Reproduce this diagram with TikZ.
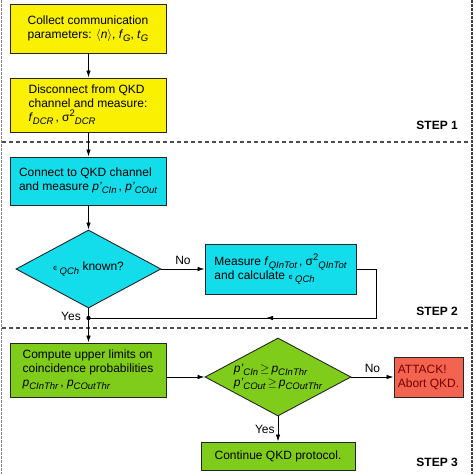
\documentclass[tikz,border=0pt]{standalone}
\usepackage{fontspec}
\setmainfont{Liberation Sans}
\newfontfamily\dvs{DejaVu Sans}
\usetikzlibrary{shapes.geometric,arrows.meta}
\definecolor{cyell}{HTML}{F9F002}
\definecolor{ccyan}{HTML}{14DDEB}
\definecolor{cgreen}{HTML}{80CC1A}
\definecolor{cred}{HTML}{F26450}
\definecolor{cdred}{HTML}{7A0000}
\newcommand\sbs[1]{\raisebox{-0.28em}{\fontsize{9.5}{10}\selectfont\itshape #1}}
\newcommand\sps[1]{\raisebox{0.45em}{\fontsize{9.5}{10}\selectfont #1}}
\newcommand\eps{{\dvs\fontsize{7.5}{8}\selectfont ϵ}}
\begin{document}
\begin{tikzpicture}[x=1pt,y=-1pt,
  box/.style={draw=black!85, line width=0.9pt, inner sep=0pt, align=left,
    font=\fontsize{12}{14}\selectfont},
  dia/.style={box, shape=diamond, aspect=1.86, minimum width=145pt, minimum height=78pt},
  arr/.style={line width=0.8pt, -{Latex[length=7pt,width=4.5pt]}},
  ln/.style={line width=0.8pt},
  lab/.style={font=\fontsize{12}{14}\selectfont, inner sep=0pt},
  steplab/.style={font=\fontsize{12}{14}\selectfont\bfseries, inner sep=0pt, anchor=east},
  hdash/.style={draw=black!70, line width=1.2pt, dash pattern=on 4pt off 3pt},
  vdash/.style={draw=black!75, line width=1.5pt, dash pattern=on 2.5pt off 1.5pt}]
\useasboundingbox (0,0) rectangle (474,474);
% frame
\draw[vdash, draw=black!50] (1.5,0) -- (1.5,474);
\draw[vdash] (472,0) -- (472,474);
\draw[hdash] (2,142) -- (472,142);
\draw[hdash] (2,328) -- (472,328);
% step labels
\node[steplab] (s1) at (458,125) {STEP 1};
\node[steplab] (s2) at (458,311) {STEP 2};
\node[steplab] (s3) at (458,462) {STEP 3};
% nodes
\node[box, fill=cyell, minimum width=156pt, minimum height=49pt] (b1) at (88,28.5)
  {Collect communication\\parameters: $\langle$\textit{n}$\rangle$, \textit{f}\sbs{G}, \textit{t}\sbs{G}};
\node[box, fill=cyell, minimum width=156pt, minimum height=54pt] (b2) at (88,105)
  {Disconnect from QKD\\channel and measure:\\\textit{f}\sbs{DCR}\,, σ\sps{2}\sbs{DCR}};
\node[box, fill=ccyan, minimum width=156pt, minimum height=48pt] (b3) at (88,181)
  {Connect to QKD channel\\and measure \textit{p'}\sbs{CIn}\,, \textit{p'}\sbs{COut}};
\node[dia, fill=ccyan] (d1) at (88.5,269) {\eps\,\sbs{QCh} known?};
\node[box, fill=ccyan, minimum width=151pt, minimum height=50pt] (b4) at (280.5,269)
  {Measure \textit{f}\sbs{QInTot}\,, σ\sps{2}\sbs{QInTot}\\and calculate \eps\,\sbs{QCh}};
\node[box, fill=cgreen, minimum width=156pt, minimum height=54pt] (b5) at (88,370)
  {Compute upper limits on\\coincidence probabilities\\\textit{p}\sbs{CInThr}\,, \textit{p}\sbs{COutThr}};
\node[dia, fill=cgreen, minimum width=146pt] (d2) at (278,377)
  {\textit{p'}\sbs{CIn}\,$\geq$\,\textit{p}\sbs{CInThr}\\\textit{p'}\sbs{COut}\,$\geq$\,\textit{p}\sbs{COutThr}};
\node[box, fill=cred, text=cdred, minimum width=69pt, minimum height=40pt] (ab) at (428.5,377)
  {ATTACK!\\Abort QKD.};
\node[box, fill=cgreen, minimum width=154pt, minimum height=28pt] (b6) at (278,456)
  {Continue QKD protocol.};
% connectors
\coordinate (c1) at (376,269);
\coordinate (c2) at (376,318);
\coordinate (m) at (266,318);
\coordinate (j) at (88.5,318);
\draw[arr] (b1.south -| 88.5,0) -- (b2.north -| 88.5,0);
\draw[arr] (b2.south -| 88.5,0) -- (b3.north -| 88.5,0);
\draw[arr] (b3.south -| 88.5,0) -- (d1.north);
\draw[arr] (d1.east) -- node[lab, above=4pt] (no1) {No} (b4.west);
\draw[ln] (b4.east) -- (c1) -- (c2) -- (j);
\draw[arr] (c2) -- (m);
\draw[ln] (d1.south) -- (j);
\fill (j) circle (2.2pt);
\node[lab, anchor=east] (yes1) at (81,316) {Yes};
\draw[arr] (j) -- (b5.north -| j);
\draw[arr] (b5.east |- d2.west) -- (d2.west);
\draw[arr] (d2.east) -- node[lab, above=4pt] (no2) {No} (ab.west);
\draw[arr] (d2.south) -- node[lab, left=3pt] (yes2) {Yes} (b6.north -| d2.south);
\end{tikzpicture}
\end{document}
